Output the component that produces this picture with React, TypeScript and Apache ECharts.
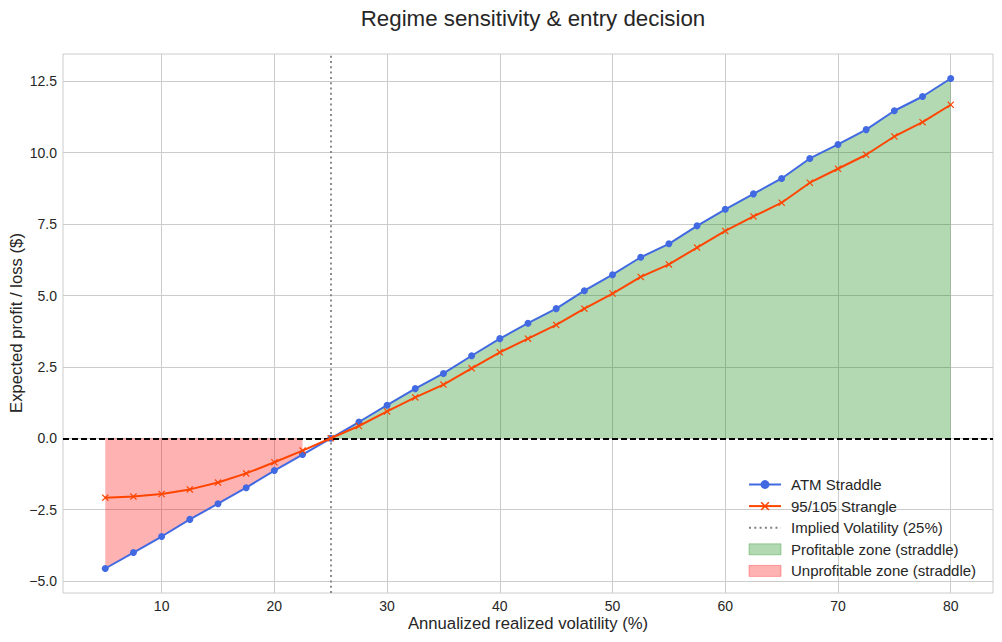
import React, { useEffect, useRef } from "react";
import * as echarts from "echarts";

// Annualized realized volatility (%) grid
const vol = [
  5, 7.5, 10, 12.5, 15, 17.5, 20, 22.5, 25, 27.5, 30, 32.5, 35, 37.5, 40, 42.5,
  45, 47.5, 50, 52.5, 55, 57.5, 60, 62.5, 65, 67.5, 70, 72.5, 75, 77.5, 80,
];

// Expected P&L ($) of the ATM straddle
const straddle = [
  -4.56, -4.0, -3.44, -2.84, -2.29, -1.73, -1.13, -0.57, 0.0, 0.57, 1.16, 1.74,
  2.27, 2.89, 3.49, 4.03, 4.54, 5.17, 5.73, 6.34, 6.81, 7.44, 8.02, 8.56, 9.1,
  9.8, 10.29, 10.81, 11.47, 11.97, 12.6,
];

// Expected P&L ($) of the 95/105 strangle
const strangle = [
  -2.08, -2.04, -1.95, -1.79, -1.55, -1.23, -0.84, -0.43, 0.0, 0.43, 0.94, 1.43,
  1.88, 2.45, 3.01, 3.49, 3.97, 4.54, 5.07, 5.65, 6.09, 6.68, 7.26, 7.77, 8.25,
  8.95, 9.44, 9.93, 10.57, 11.07, 11.68,
];

const impliedVol = 25;
const xTicks = [10, 20, 30, 40, 50, 60, 70, 80];
const yTicks = [-5, -2.5, 0, 2.5, 5, 7.5, 10, 12.5];

const TEXT = "#262626";
const GRID = "#cccccc";
const FONT = "Liberation Sans, Arial, sans-serif";
const GREEN_FILL = "rgba(0,128,0,0.3)";
const RED_FILL = "rgba(255,0,0,0.3)";

const fmtY = (v: number) => v.toFixed(1).replace("-", "\u2212");

const App: React.FC = () => {
  const ref = useRef<HTMLDivElement>(null);

  useEffect(() => {
    if (!ref.current) return;
    const chart = echarts.init(ref.current, undefined, { renderer: "svg" });

    const straddlePts = vol.map((x, i) => [x, straddle[i]]);
    const stranglePts = vol.map((x, i) => [x, strangle[i]]);
    const profitPts = straddlePts.filter((p) => p[1] >= 0);
    const lossPts = straddlePts.filter((p) => p[1] < 0);

    const xMin = 1.25;
    const xMax = 83.75;
    const yMin = -5.418;
    const yMax = 13.458;

    const crossSymbol =
      "path://M0,1.2 L1.2,0 L5,3.8 L8.8,0 L10,1.2 L6.2,5 L10,8.8 L8.8,10 L5,6.2 L1.2,10 L0,8.8 L3.8,5 Z";

    chart.setOption({
      animation: false,
      backgroundColor: "#ffffff",
      textStyle: { fontFamily: FONT },
      title: {
        text: "Regime sensitivity & entry decision",
        left: 528,
        top: 2,
        textAlign: "center",
        textStyle: {
          fontFamily: FONT,
          fontSize: 22.3,
          fontWeight: "normal",
          color: TEXT,
        },
      },
      grid: {
        left: 63,
        top: 54,
        width: 930,
        height: 539,
        show: true,
        borderColor: GRID,
        borderWidth: 1,
        containLabel: false,
      },
      legend: {
        orient: "vertical",
        left: 743,
        top: 472,
        itemWidth: 32,
        itemHeight: 11,
        itemGap: 6.6,
        selectedMode: false,
        textStyle: {
          fontFamily: FONT,
          fontSize: 15,
          color: TEXT,
          padding: [0, 0, 0, 5],
        },
        data: [
          { name: "ATM Straddle" },
          { name: "95/105 Strangle" },
          {
            name: "Implied Volatility (25%)",
            itemStyle: { opacity: 0 },
          },
          {
            name: "Profitable zone (straddle)",
            icon: "rect",
            itemStyle: {
              color: GREEN_FILL,
              borderColor: "rgba(0,128,0,0.3)",
              borderWidth: 1,
              opacity: 1,
            },
          },
          {
            name: "Unprofitable zone (straddle)",
            icon: "rect",
            itemStyle: {
              color: RED_FILL,
              borderColor: "rgba(255,0,0,0.3)",
              borderWidth: 1,
              opacity: 1,
            },
          },
        ],
      },
      xAxis: {
        type: "value",
        min: xMin,
        max: xMax,
        axisLine: { show: false },
        axisTick: { show: false, customValues: xTicks },
        axisLabel: {
          customValues: xTicks,
          color: TEXT,
          fontSize: 14,
          fontFamily: FONT,
          margin: 6,
          showMinLabel: true,
          showMaxLabel: true,
        },
        splitLine: { show: true, lineStyle: { color: GRID, width: 1 } },
      },
      yAxis: {
        type: "value",
        min: yMin,
        max: yMax,
        axisLine: { show: false },
        axisTick: { show: false, customValues: yTicks },
        axisLabel: {
          customValues: yTicks,
          color: TEXT,
          fontSize: 14,
          fontFamily: FONT,
          margin: 6,
          formatter: (v: number) => fmtY(v),
        },
        splitLine: { show: true, lineStyle: { color: GRID, width: 1 } },
      },
      graphic: [
        {
          type: "text",
          x: 528,
          y: 623,
          style: {
            text: "Annualized realized volatility (%)",
            fontFamily: FONT,
            fontSize: 16.7,
            fill: TEXT,
            textAlign: "center",
            textVerticalAlign: "middle",
          },
        },
        {
          type: "text",
          x: 16,
          y: 323,
          rotation: Math.PI / 2,
          style: {
            text: "Expected profit / loss ($)",
            fontFamily: FONT,
            fontSize: 16.7,
            fill: TEXT,
            textAlign: "center",
            textVerticalAlign: "middle",
          },
        },
      ],
      series: [
        {
          name: "Profitable zone (straddle)",
          type: "line",
          data: profitPts,
          symbol: "none",
          lineStyle: { width: 0, color: GREEN_FILL },
          itemStyle: { color: GREEN_FILL },
          areaStyle: { color: GREEN_FILL, opacity: 1, origin: "auto" },
          z: 1,
          silent: true,
        },
        {
          name: "Unprofitable zone (straddle)",
          type: "line",
          data: lossPts,
          symbol: "none",
          lineStyle: { width: 0, color: RED_FILL },
          itemStyle: { color: RED_FILL },
          areaStyle: { color: RED_FILL, opacity: 1, origin: "auto" },
          z: 1,
          silent: true,
        },
        {
          name: "zero",
          type: "line",
          data: [],
          silent: true,
          markLine: {
            silent: true,
            symbol: "none",
            label: { show: false },
            lineStyle: { color: "#000000", type: [6, 3], width: 1.8 },
            data: [{ yAxis: 0 }],
          },
          z: 3,
        },
        {
          name: "Implied Volatility (25%)",
          type: "line",
          data: [],
          symbol: "none",
          itemStyle: { color: "#808080" },
          lineStyle: { color: "#808080", type: [2, 3.3], width: 1.8 },
          markLine: {
            silent: true,
            symbol: "none",
            label: { show: false },
            lineStyle: { color: "#808080", type: [2, 3.3], width: 1.8 },
            data: [{ xAxis: impliedVol }],
          },
          z: 3,
        },
        {
          name: "ATM Straddle",
          type: "line",
          data: straddlePts,
          symbol: "circle",
          symbolSize: 7,
          showAllSymbol: true,
          itemStyle: { color: "#4169e1" },
          lineStyle: { color: "#4169e1", width: 2 },
          z: 4,
        },
        {
          name: "95/105 Strangle",
          type: "line",
          data: stranglePts,
          symbol: crossSymbol,
          symbolSize: 7,
          showAllSymbol: true,
          itemStyle: { color: "#ff4500" },
          lineStyle: { color: "#ff4500", width: 2 },
          z: 5,
        },
      ],
    });

    return () => chart.dispose();
  }, []);

  return (
    <div
      ref={ref}
      style={{ position: "fixed", left: 0, top: 0, width: 1002, height: 642 }}
    />
  );
};

export default App;
